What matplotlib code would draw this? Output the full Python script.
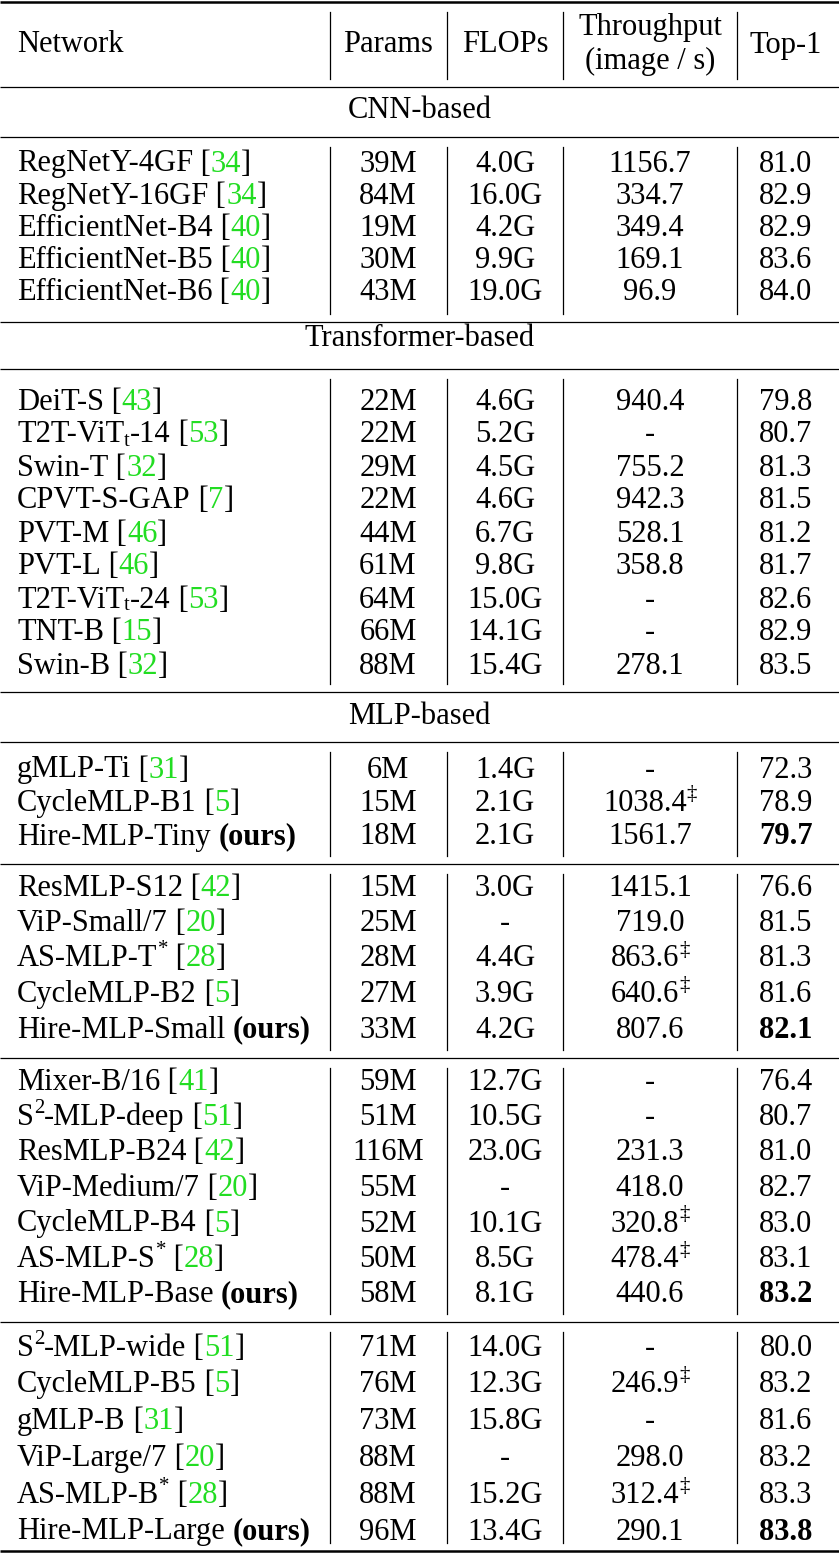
import re
import matplotlib.pyplot as plt

# ---- data ----
sections = ["CNN-based", "Transformer-based", "MLP-based"]

cnn_names = ["RegNetY-4GF", "RegNetY-16GF", "EfficientNet-B4", "EfficientNet-B5", "EfficientNet-B6"]
cnn_cites = ["34", "34", "40", "40", "40"]
cnn_params = ["39M", "84M", "19M", "30M", "43M"]
cnn_flops = ["4.0G", "16.0G", "4.2G", "9.9G", "19.0G"]
cnn_tput = ["1156.7", "334.7", "349.4", "169.1", "96.9"]
cnn_top1 = ["81.0", "82.9", "82.9", "83.6", "84.0"]

tr_names = ["DeiT-S", "T2T-ViT_t-14", "Swin-T", "CPVT-S-GAP", "PVT-M", "PVT-L", "T2T-ViT_t-24", "TNT-B", "Swin-B"]
tr_cites = ["43", "53", "32", "7", "46", "46", "53", "15", "32"]
tr_params = ["22M", "22M", "29M", "22M", "44M", "61M", "64M", "66M", "88M"]
tr_flops = ["4.6G", "5.2G", "4.5G", "4.6G", "6.7G", "9.8G", "15.0G", "14.1G", "15.4G"]
tr_tput = ["940.4", "-", "755.2", "942.3", "528.1", "358.8", "-", "-", "278.1"]
tr_top1 = ["79.8", "80.7", "81.3", "81.5", "81.2", "81.7", "82.6", "82.9", "83.5"]

m1_names = ["gMLP-Ti", "CycleMLP-B1", "Hire-MLP-Tiny"]
m1_cites = ["31", "5", ""]
m1_params = ["6M", "15M", "18M"]
m1_flops = ["1.4G", "2.1G", "2.1G"]
m1_tput = ["-", "1038.4^‡", "1561.7"]
m1_top1 = ["72.3", "78.9", "79.7"]

m2_names = ["ResMLP-S12", "ViP-Small/7", "AS-MLP-T^*", "CycleMLP-B2", "Hire-MLP-Small"]
m2_cites = ["42", "20", "28", "5", ""]
m2_params = ["15M", "25M", "28M", "27M", "33M"]
m2_flops = ["3.0G", "-", "4.4G", "3.9G", "4.2G"]
m2_tput = ["1415.1", "719.0", "863.6^‡", "640.6^‡", "807.6"]
m2_top1 = ["76.6", "81.5", "81.3", "81.6", "82.1"]

m3_names = ["Mixer-B/16", "S^2-MLP-deep", "ResMLP-B24", "ViP-Medium/7", "CycleMLP-B4", "AS-MLP-S^*", "Hire-MLP-Base"]
m3_cites = ["41", "51", "42", "20", "5", "28", ""]
m3_params = ["59M", "51M", "116M", "55M", "52M", "50M", "58M"]
m3_flops = ["12.7G", "10.5G", "23.0G", "-", "10.1G", "8.5G", "8.1G"]
m3_tput = ["-", "-", "231.3", "418.0", "320.8^‡", "478.4^‡", "440.6"]
m3_top1 = ["76.4", "80.7", "81.0", "82.7", "83.0", "83.1", "83.2"]

m4_names = ["S^2-MLP-wide", "CycleMLP-B5", "gMLP-B", "ViP-Large/7", "AS-MLP-B^*", "Hire-MLP-Large"]
m4_cites = ["51", "5", "31", "20", "28", ""]
m4_params = ["71M", "76M", "73M", "88M", "88M", "96M"]
m4_flops = ["14.0G", "12.3G", "15.8G", "-", "15.2G", "13.4G"]
m4_tput = ["-", "246.9^‡", "-", "298.0", "312.4^‡", "290.1"]
m4_top1 = ["80.0", "83.2", "81.6", "83.2", "83.3", "83.8"]

blocks = [
    (cnn_names, cnn_cites, cnn_params, cnn_flops, cnn_tput, cnn_top1),
    (tr_names, tr_cites, tr_params, tr_flops, tr_tput, tr_top1),
    (m1_names, m1_cites, m1_params, m1_flops, m1_tput, m1_top1),
    (m2_names, m2_cites, m2_params, m2_flops, m2_tput, m2_top1),
    (m3_names, m3_cites, m3_params, m3_flops, m3_tput, m3_top1),
    (m4_names, m4_cites, m4_params, m4_flops, m4_tput, m4_top1),
]

# ---- layout ----
W, H = 839, 1554
FS = 22
FAM = ['Liberation Serif', 'DejaVu Serif']
GREEN = '#22dd22'
vx = [330, 447, 563, 737]
cx = [388, 505, 650, 786]
x0 = 17

fig = plt.figure(figsize=(W / 100, H / 100), dpi=100)
ax = fig.add_axes([0, 0, 1, 1])
ax.set_xlim(0, W)
ax.set_ylim(H, 0)
ax.axis('off')
renderer = fig.canvas.get_renderer()


def tokens(s):
    # split into (text, kind) with kind normal / sup / sub
    out = []
    for m in re.finditer(r'\^(.)|_(.)|([^\^_]+)', s):
        if m.group(1):
            out.append((m.group(1), 'sup'))
        elif m.group(2):
            out.append((m.group(2), 'sub'))
        else:
            out.append((m.group(3), 'n'))
    return out


def draw_segs(x, y, segs, ha='left'):
    # segs: list of (text, kind, color, weight)
    arts = []
    for txt, kind, col, wt in segs:
        fs = FS * 0.68 if kind in ('sup', 'sub') else FS
        dy = -9 if kind == 'sup' else (6 if kind == 'sub' else 0)
        t = ax.text(0, y + dy, txt, fontsize=fs, family=FAM, color=col,
                    weight=wt, va='center', ha='left')
        arts.append(t)
    widths = [a.get_window_extent(renderer).width for a in arts]
    total = sum(widths)
    cur = x - total / 2 if ha == 'center' else x
    for a, w in zip(arts, widths):
        a.set_x(cur)
        cur += w


def hline(y, lw=0.9):
    ax.plot([0, W], [y, y], color='black', lw=lw, solid_capstyle='butt')


def vlines(y1, y2):
    for x in vx:
        ax.plot([x, x], [y1, y2], color='black', lw=0.9)


# header
hline(2, 1.8)
draw_segs(x0, 45, [("Network", 'n', 'black', 'normal')])
draw_segs(cx[0], 45, [("Params", 'n', 'black', 'normal')], 'center')
draw_segs(cx[1], 45, [("FLOPs", 'n', 'black', 'normal')], 'center')
draw_segs(cx[2], 28, [("Throughput", 'n', 'black', 'normal')], 'center')
draw_segs(cx[2], 61, [("(image / s)", 'n', 'black', 'normal')], 'center')
draw_segs(cx[3], 45, [("Top-1", 'n', 'black', 'normal')], 'center')
vlines(12, 79)
hline(87)

# blocks: (section title y or None, top line, first row y, row step, bottom line)
geom = [(110, 137, 164, 32.2, 322), (338, 369, 402, 33.0, 692),
        (717, 742, 770, 33.5, 864), (None, 864, 888, 35.5, 1058),
        (None, 1058, 1082, 35.5, 1322), (None, 1322, 1348, 36.8, 1551)]
sec_i = 0
for (names, cites, params, flops, tput, top1), (sy, top, fy, step, bot) in zip(blocks, geom):
    if sy is not None:
        draw_segs(W / 2, sy, [(sections[sec_i], 'n', 'black', 'normal')], 'center')
        sec_i += 1
        hline(top)
    vlines(top + 10, bot - 8)
    for i, name in enumerate(names):
        y = fy + i * step
        segs = [(t, k, 'black', 'normal') for t, k in tokens(name)]
        if cites[i]:
            segs += [(" [", 'n', 'black', 'normal'), (cites[i], 'n', GREEN, 'normal'),
                     ("]", 'n', 'black', 'normal')]
        else:
            segs += [(" ", 'n', 'black', 'normal'), ("(ours)", 'n', 'black', 'bold')]
        draw_segs(x0, y, segs)
        draw_segs(cx[0], y, [(params[i], 'n', 'black', 'normal')], 'center')
        draw_segs(cx[1], y, [(flops[i], 'n', 'black', 'normal')], 'center')
        draw_segs(cx[2], y, [(t, k, 'black', 'normal') for t, k in tokens(tput[i])], 'center')
        wt = 'bold' if not cites[i] else 'normal'
        draw_segs(cx[3], y, [(top1[i], 'n', 'black', wt)], 'center')
    hline(bot, 1.8 if bot == 1551 else 0.9)

fig.savefig('out.png', dpi=100)
